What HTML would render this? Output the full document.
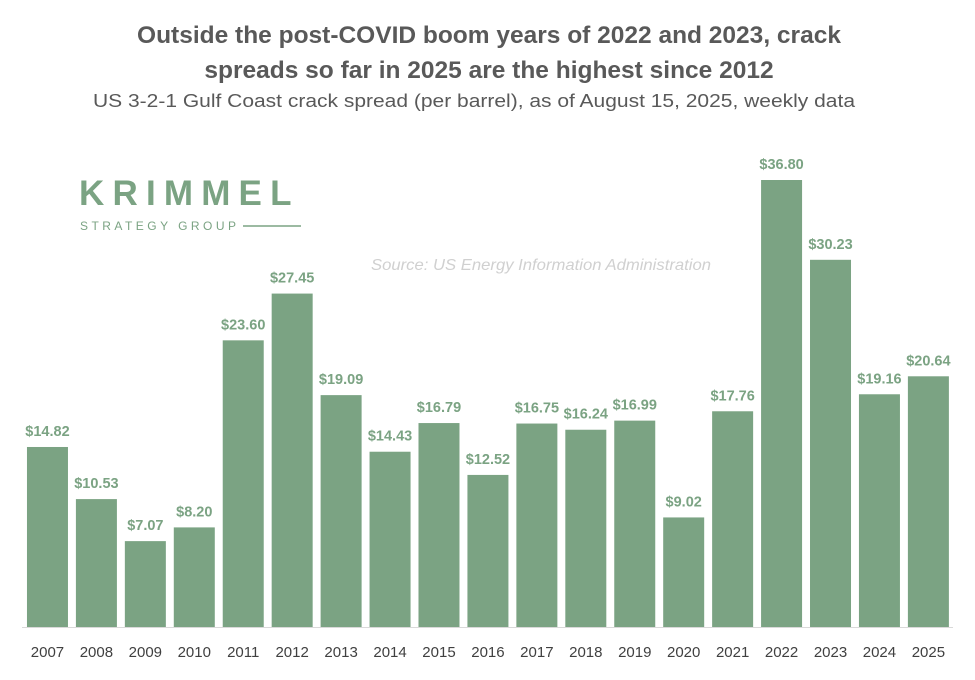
<!DOCTYPE html>
<html><head><meta charset="utf-8"><style>
body{margin:0;background:#fff;width:975px;height:675px;overflow:hidden;font-family:"Liberation Sans",sans-serif;}
</style></head><body>
<svg width="975" height="675" xmlns="http://www.w3.org/2000/svg">
<text x="489" y="43" text-anchor="middle" font-size="24.5" font-weight="bold" fill="#595959">Outside the post-COVID boom years of 2022 and 2023, crack</text>
<text x="489" y="78" text-anchor="middle" font-size="24.5" font-weight="bold" fill="#595959">spreads so far in 2025 are the highest since 2012</text>
<text x="474" y="107" text-anchor="middle" font-size="18.5" fill="#595959" textLength="762" lengthAdjust="spacingAndGlyphs">US 3-2-1 Gulf Coast crack spread (per barrel), as of August 15, 2025, weekly data</text>
<g>
<text x="79" y="205" font-size="35" font-weight="bold" fill="#7ba383" letter-spacing="9.5" textLength="222">KRIMMEL</text>
<text x="80" y="230" font-size="12" fill="#7ba383" textLength="156" lengthAdjust="spacing">STRATEGY GROUP</text>
<line x1="243" y1="226" x2="301" y2="226" stroke="#7ba383" stroke-width="1.5"/>
</g>
<text x="541" y="270" text-anchor="middle" font-size="16" font-style="italic" fill="#d0d0d0" textLength="340" lengthAdjust="spacingAndGlyphs">Source: US Energy Information Administration</text>
<g id="bars"></g>
<line x1="22" y1="627.5" x2="953" y2="627.5" stroke="#d9d9d9" stroke-width="1"/>
</svg>
<script>
const categories=["2007","2008","2009","2010","2011","2012","2013","2014","2015","2016","2017","2018","2019","2020","2021","2022","2023","2024","2025"];
const values=[14.82,10.53,7.07,8.20,23.60,27.45,19.09,14.43,16.79,12.52,16.75,16.24,16.99,9.02,17.76,36.80,30.23,19.16,20.64];
const labels=["$14.82","$10.53","$7.07","$8.20","$23.60","$27.45","$19.09","$14.43","$16.79","$12.52","$16.75","$16.24","$16.99","$9.02","$17.76","$36.80","$30.23","$19.16","$20.64"];
const g=document.getElementById('bars');
const NS="http://www.w3.org/2000/svg";
const x0=23, step=48.94, bw=41, base=627, scale=447/36.8;
const xc=i=>x0+step*i+step/2;
const y=v=>base-v*scale;
categories.forEach((c,i)=>{
 const r=document.createElementNS(NS,'rect');
 r.setAttribute('x',xc(i)-bw/2);r.setAttribute('y',y(values[i]));
 r.setAttribute('width',bw);r.setAttribute('height',base-y(values[i]));
 r.setAttribute('fill','#7ba383');
 
 
 g.appendChild(r);
 const t=document.createElementNS(NS,'text');
 t.setAttribute('x',xc(i));t.setAttribute('y',y(values[i])-11);
 t.setAttribute('text-anchor','middle');t.setAttribute('font-size','14.5');
 t.setAttribute('font-weight','bold');t.setAttribute('fill','#7ba383');
 t.textContent=labels[i];
 
 
 g.appendChild(t);
 const l=document.createElementNS(NS,'text');
 l.setAttribute('x',xc(i));l.setAttribute('y',657);
 l.setAttribute('text-anchor','middle');l.setAttribute('font-size','15');
 l.setAttribute('fill','#404040');
 l.textContent=c;
 
 
 g.appendChild(l);
});
</script>
</body></html>
